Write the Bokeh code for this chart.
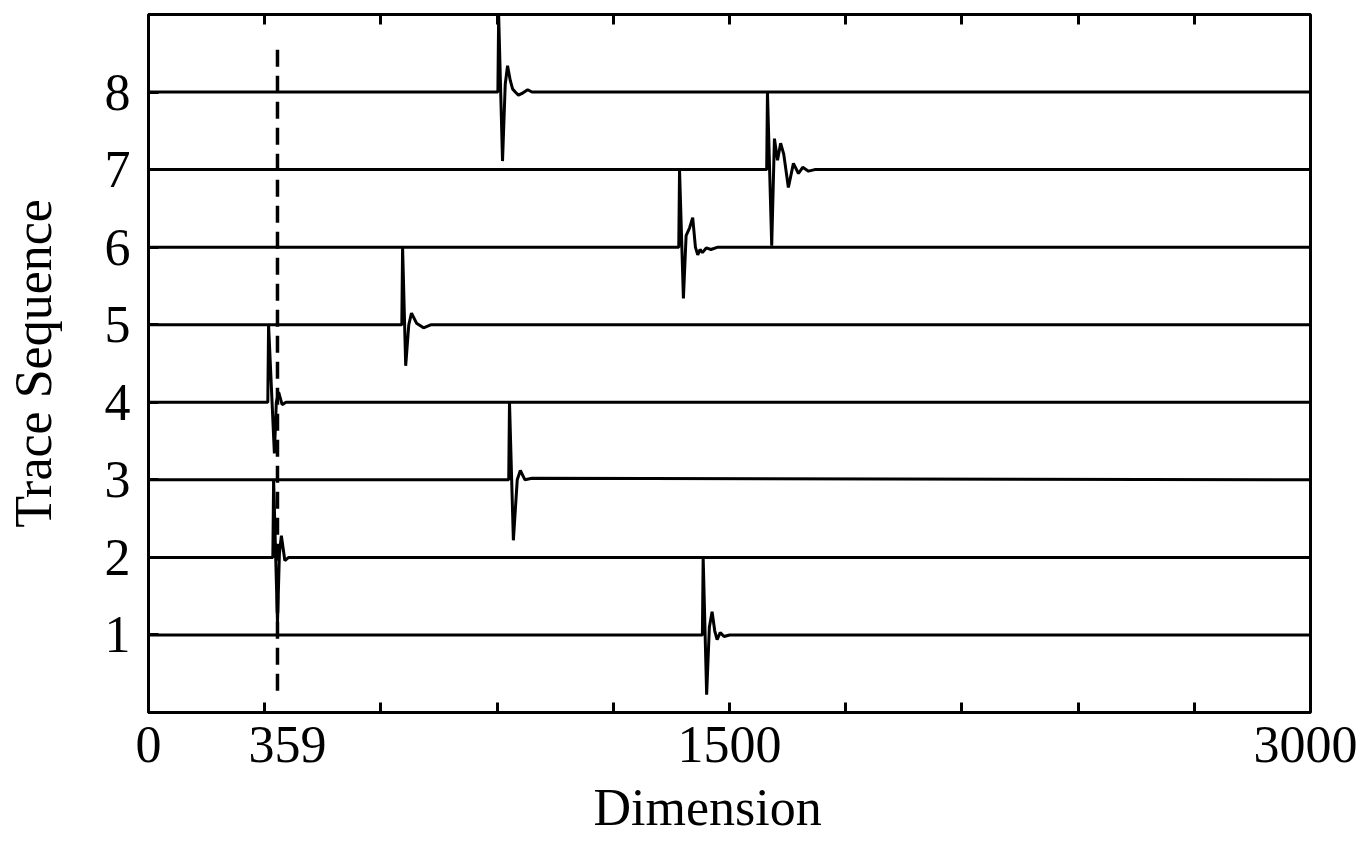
from bokeh.plotting import figure
from bokeh.models import Range1d, FixedTicker, LinearAxis, Title
from bokeh.embed import file_html
from bokeh.resources import INLINE

# ---- data ----
levels = [1, 2, 3, 4, 5, 6, 7, 8]
trace1_x = [0, 1430, 1432, 1441, 1448, 1455, 1462, 1468, 1476, 1486, 1500, 3000]
trace1_a = [0, 0, 1.0, -0.77, 0.10, 0.30, 0.05, -0.06, 0.03, -0.02, 0, 0]
trace2_x = [0, 321, 323, 333, 338, 343, 352, 362, 3000]
trace2_a = [0, 0, 1.0, -0.85, 0.05, 0.28, -0.04, 0, 0]
trace3_x = [0, 930, 932, 942, 952, 960, 972, 990, 3000]
trace3_a = [0, 0, 1.0, -0.78, 0.0, 0.12, 0.0, 0.02, 0]
trace4_x = [0, 308, 310, 325, 330, 336, 345, 355, 3000]
trace4_a = [0, 0, 1.0, -0.66, 0.0, 0.13, -0.03, 0, 0]
trace5_x = [0, 654, 656, 664, 672, 679, 692, 710, 730, 3000]
trace5_a = [0, 0, 1.0, -0.53, 0.0, 0.15, 0.02, -0.04, 0, 0]
trace6_x = [0, 1369, 1371, 1381, 1388, 1397, 1405, 1412, 1418, 1424, 1430, 1440, 1452, 1470, 3000]
trace6_a = [0, 0, 1.0, -0.66, 0.15, 0.25, 0.38, 0.0, -0.10, -0.03, -0.07, -0.01, -0.03, 0, 0]
trace7_x = [0, 1596, 1598, 1609, 1616, 1624, 1632, 1640, 1652, 1665, 1678, 1689, 1704, 1720, 3000]
trace7_a = [0, 0, 1.0, -0.98, 0.40, 0.12, 0.34, 0.20, -0.23, 0.08, -0.05, 0.03, -0.02, 0, 0]
trace8_x = [0, 902, 904, 914, 921, 927, 934, 940, 947, 955, 967, 979, 990, 1000, 3000]
trace8_a = [0, 0, 1.0, -0.89, 0.10, 0.34, 0.15, 0.04, 0.0, -0.04, -0.01, 0.03, 0, 0, 0]
marker_x = 333
marker_y = [0.28, 8.66]
x_tick_values = [0, 359, 1500, 3000]
x_tick_labels = {0: "0", 359: "359", 1500: "1500", 3000: "3000"}
x_minor = [300, 600, 900, 1200, 1500, 1800, 2100, 2400, 2700]
y_ticks = [1, 2, 3, 4, 5, 6, 7, 8]
x_title = "Dimension"
y_title = "Trace Sequence"

traces_x = [trace1_x, trace2_x, trace3_x, trace4_x, trace5_x, trace6_x, trace7_x, trace8_x]
traces_a = [trace1_a, trace2_a, trace3_a, trace4_a, trace5_a, trace6_a, trace7_a, trace8_a]

FONT = "Liberation Serif"
FS = "52px"
LW = 3

W, H = 1357, 849
p = figure(width=W, height=H, x_range=Range1d(0, 3000), y_range=Range1d(0, 9),
           output_backend="svg", toolbar_location=None,
           min_border_left=148, min_border_right=W - 1310, min_border_top=14,
           min_border_bottom=H - 712)
p.grid.visible = False
p.background_fill_color = "white"
p.border_fill_color = "white"
p.outline_line_color = "black"
p.outline_line_width = LW
p.outline_line_alpha = 1.0

for lvl, xs, amps in zip(levels, traces_x, traces_a):
    ys = [lvl + a for a in amps]
    p.line(xs, ys, line_color="black", line_width=LW)

p.line([marker_x, marker_x], marker_y, line_color="black", line_width=3.5, line_dash="17 9")

xa = p.xaxis[0]
xa.ticker = FixedTicker(ticks=x_tick_values, minor_ticks=x_minor)
xa.major_label_overrides = x_tick_labels
xa.major_tick_in = 0
xa.major_tick_out = 0
xa.minor_tick_in = 10
xa.minor_tick_out = 0
xa.minor_tick_line_width = LW
xa.minor_tick_line_color = "black"
xa.axis_line_width = LW
xa.axis_line_color = "black"
xa.major_label_text_font = FONT
xa.major_label_text_font_size = FS
xa.major_label_text_color = "black"
xa.major_label_standoff = 14

ya = p.yaxis[0]
ya.ticker = FixedTicker(ticks=y_ticks)
ya.major_tick_in = 10
ya.major_tick_out = 0
ya.minor_tick_in = 0
ya.minor_tick_out = 0
ya.major_tick_line_width = LW
ya.axis_line_width = LW
ya.axis_line_color = "black"
ya.major_label_text_font = FONT
ya.major_label_text_font_size = FS
ya.major_label_text_color = "black"
ya.major_label_standoff = 18
ya.axis_label = y_title
ya.axis_label_text_font = FONT
ya.axis_label_text_font_size = FS
ya.axis_label_text_font_style = "normal"
ya.axis_label_text_color = "black"
ya.axis_label_standoff = 40

top = LinearAxis(ticker=FixedTicker(ticks=[], minor_ticks=x_minor),
                 major_tick_in=0, major_tick_out=0, minor_tick_in=10, minor_tick_out=0,
                 minor_tick_line_width=LW, axis_line_width=LW, major_label_standoff=0,
                 major_label_text_font_size="1px")
p.add_layout(top, "above")

p.add_layout(Title(text=x_title, text_font=FONT, text_font_size=FS, text_font_style="normal",
                   text_color="black", align="left", offset=445, standoff=24), "below")

open("out.html", "w").write(file_html(p, INLINE))
